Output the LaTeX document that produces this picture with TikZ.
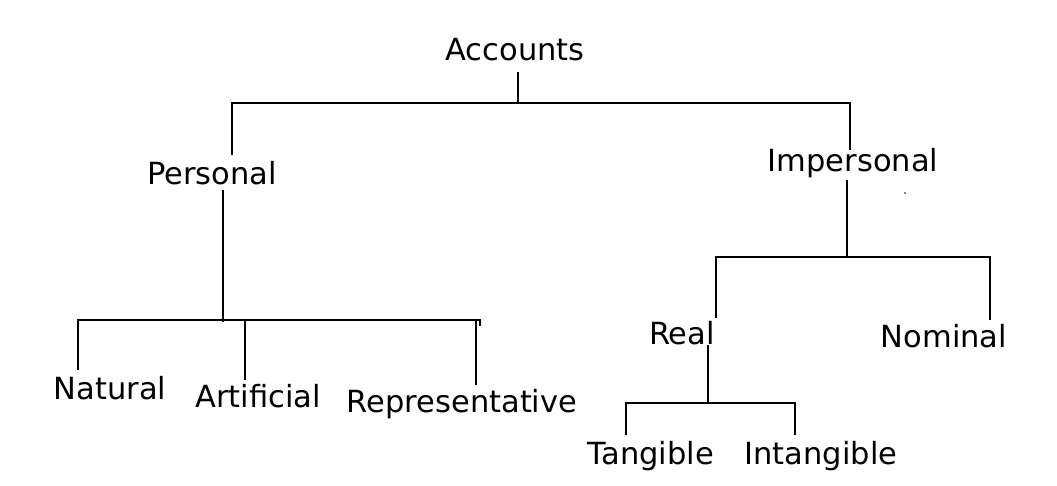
\documentclass[tikz,border=0pt]{standalone}
\usepackage{fontspec}
\setmainfont{DejaVu Sans}
\begin{document}
\begin{tikzpicture}[x=1pt,y=-1pt,lbl/.style={font=\fontsize{30.5}{33}\selectfont,inner sep=1pt},ln/.style={line width=1.3pt}]
\useasboundingbox (0,0) rectangle (1057,485);
\node[lbl] (acc) at (515,50) {Accounts};
\node[lbl] (per) at (212,173) {Personal};
\node[lbl] (imp) at (853,163) {Impersonal};
\node[lbl] (nat) at (110,388) {Natural};
\node[lbl] (art) at (258,396) {Artificial};
\node[lbl] (rep) at (462,404) {Representative};
\node[lbl] (real) at (682,333) {Real};
\node[lbl] (nom) at (944,336) {Nominal};
\node[lbl] (tan) at (651,456) {Tangible};
\node[lbl] (intg) at (821,456) {Intangible};
\draw[ln] (518,72) -- (518,103);
\draw[ln] (232,155) -- (232,103) -- (850,103) -- (850,150);
\draw[ln] (223,190) -- (223,322);
\draw[ln] (78,370) -- (78,320) -- (480,320) -- (480,326);
\draw[ln] (245,320) -- (245,380);
\draw[ln] (476,320) -- (476,385);
\draw[ln] (847,180) -- (847,257);
\draw[ln] (716,318) -- (716,257) -- (990,257) -- (990,320);
\draw[ln] (708,345) -- (708,403);
\draw[ln] (626,435) -- (626,403) -- (795,403) -- (795,435);
\fill (905,193) circle (0.8);
\end{tikzpicture}
\end{document}
